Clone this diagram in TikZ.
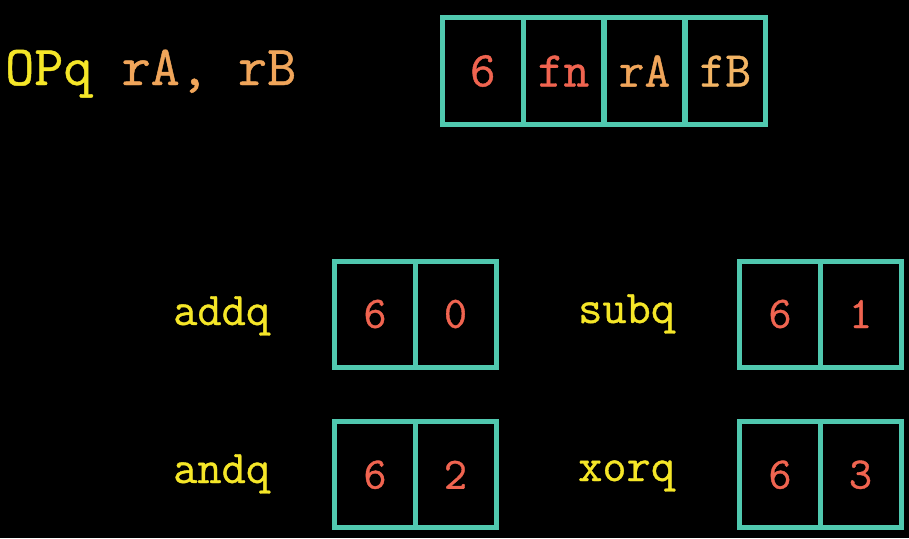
\documentclass[tikz,border=0pt]{standalone}
\usepackage{fontspec}
\newfontfamily\thicktt{Latin Modern Mono}[FakeBold=0.8]
\definecolor{bg}{RGB}{0,0,0}
\definecolor{ylw}{RGB}{245,230,40}
\definecolor{org}{RGB}{240,165,90}
\definecolor{lorg}{RGB}{242,180,100}
\definecolor{red}{RGB}{240,100,80}
\definecolor{teal}{RGB}{80,200,175}
\begin{document}
\begin{tikzpicture}[x=1pt,y=-1pt,
  bigcell/.style={draw=teal,line width=5pt,rectangle,inner sep=0pt,
    minimum width=80.5pt,minimum height=107pt,
    font=\thicktt\fontsize{50}{50}\selectfont},
  smallcell/.style={draw=teal,line width=5pt,rectangle,inner sep=0pt,
    minimum width=81pt,minimum height=106pt,
    font=\thicktt\fontsize{45}{45}\selectfont,text=red},
  lbl/.style={anchor=base west,inner sep=0pt,text=ylw,
    font=\thicktt\fontsize{47}{47}\selectfont}]
\fill[bg] (0,0) rectangle (909,538);
\useasboundingbox (0,0) rectangle (909,538);
% instruction
\node[anchor=base west,inner sep=0pt,font=\thicktt\fontsize{56.5}{56.5}\selectfont] (instr) at (5,85)
  {\textcolor{ylw}{OPq}\textcolor{org}{\ rA,\ rB}};
% encoding
\node[bigcell,text=red] (c1) at (482.75,71) {6};
\node[bigcell,text=red] (c2) at (563.5,71) {fn};
\node[bigcell,text=org] (c3) at (644.5,71) {rA};
\node[bigcell,text=lorg] (c4) at (725.25,71) {fB};
% addq
\node[lbl] (ladd) at (173,325) {addq};
\node[smallcell] (a1) at (375,314) {6};
\node[smallcell] (a2) at (455.5,314) {0};
% subq
\node[lbl] (lsub) at (578,323) {subq};
\node[smallcell] (s1) at (780,314) {6};
\node[smallcell] (s2) at (860.5,314) {1};
% andq
\node[lbl] (land) at (173,483) {andq};
\node[smallcell] (n1) at (375,474.75) {6};
\node[smallcell] (n2) at (455.5,474.75) {2};
% xorq
\node[lbl] (lxor) at (578,481) {xorq};
\node[smallcell] (x1) at (780,474.75) {6};
\node[smallcell] (x2) at (860.5,474.75) {3};
\end{tikzpicture}
\end{document}
